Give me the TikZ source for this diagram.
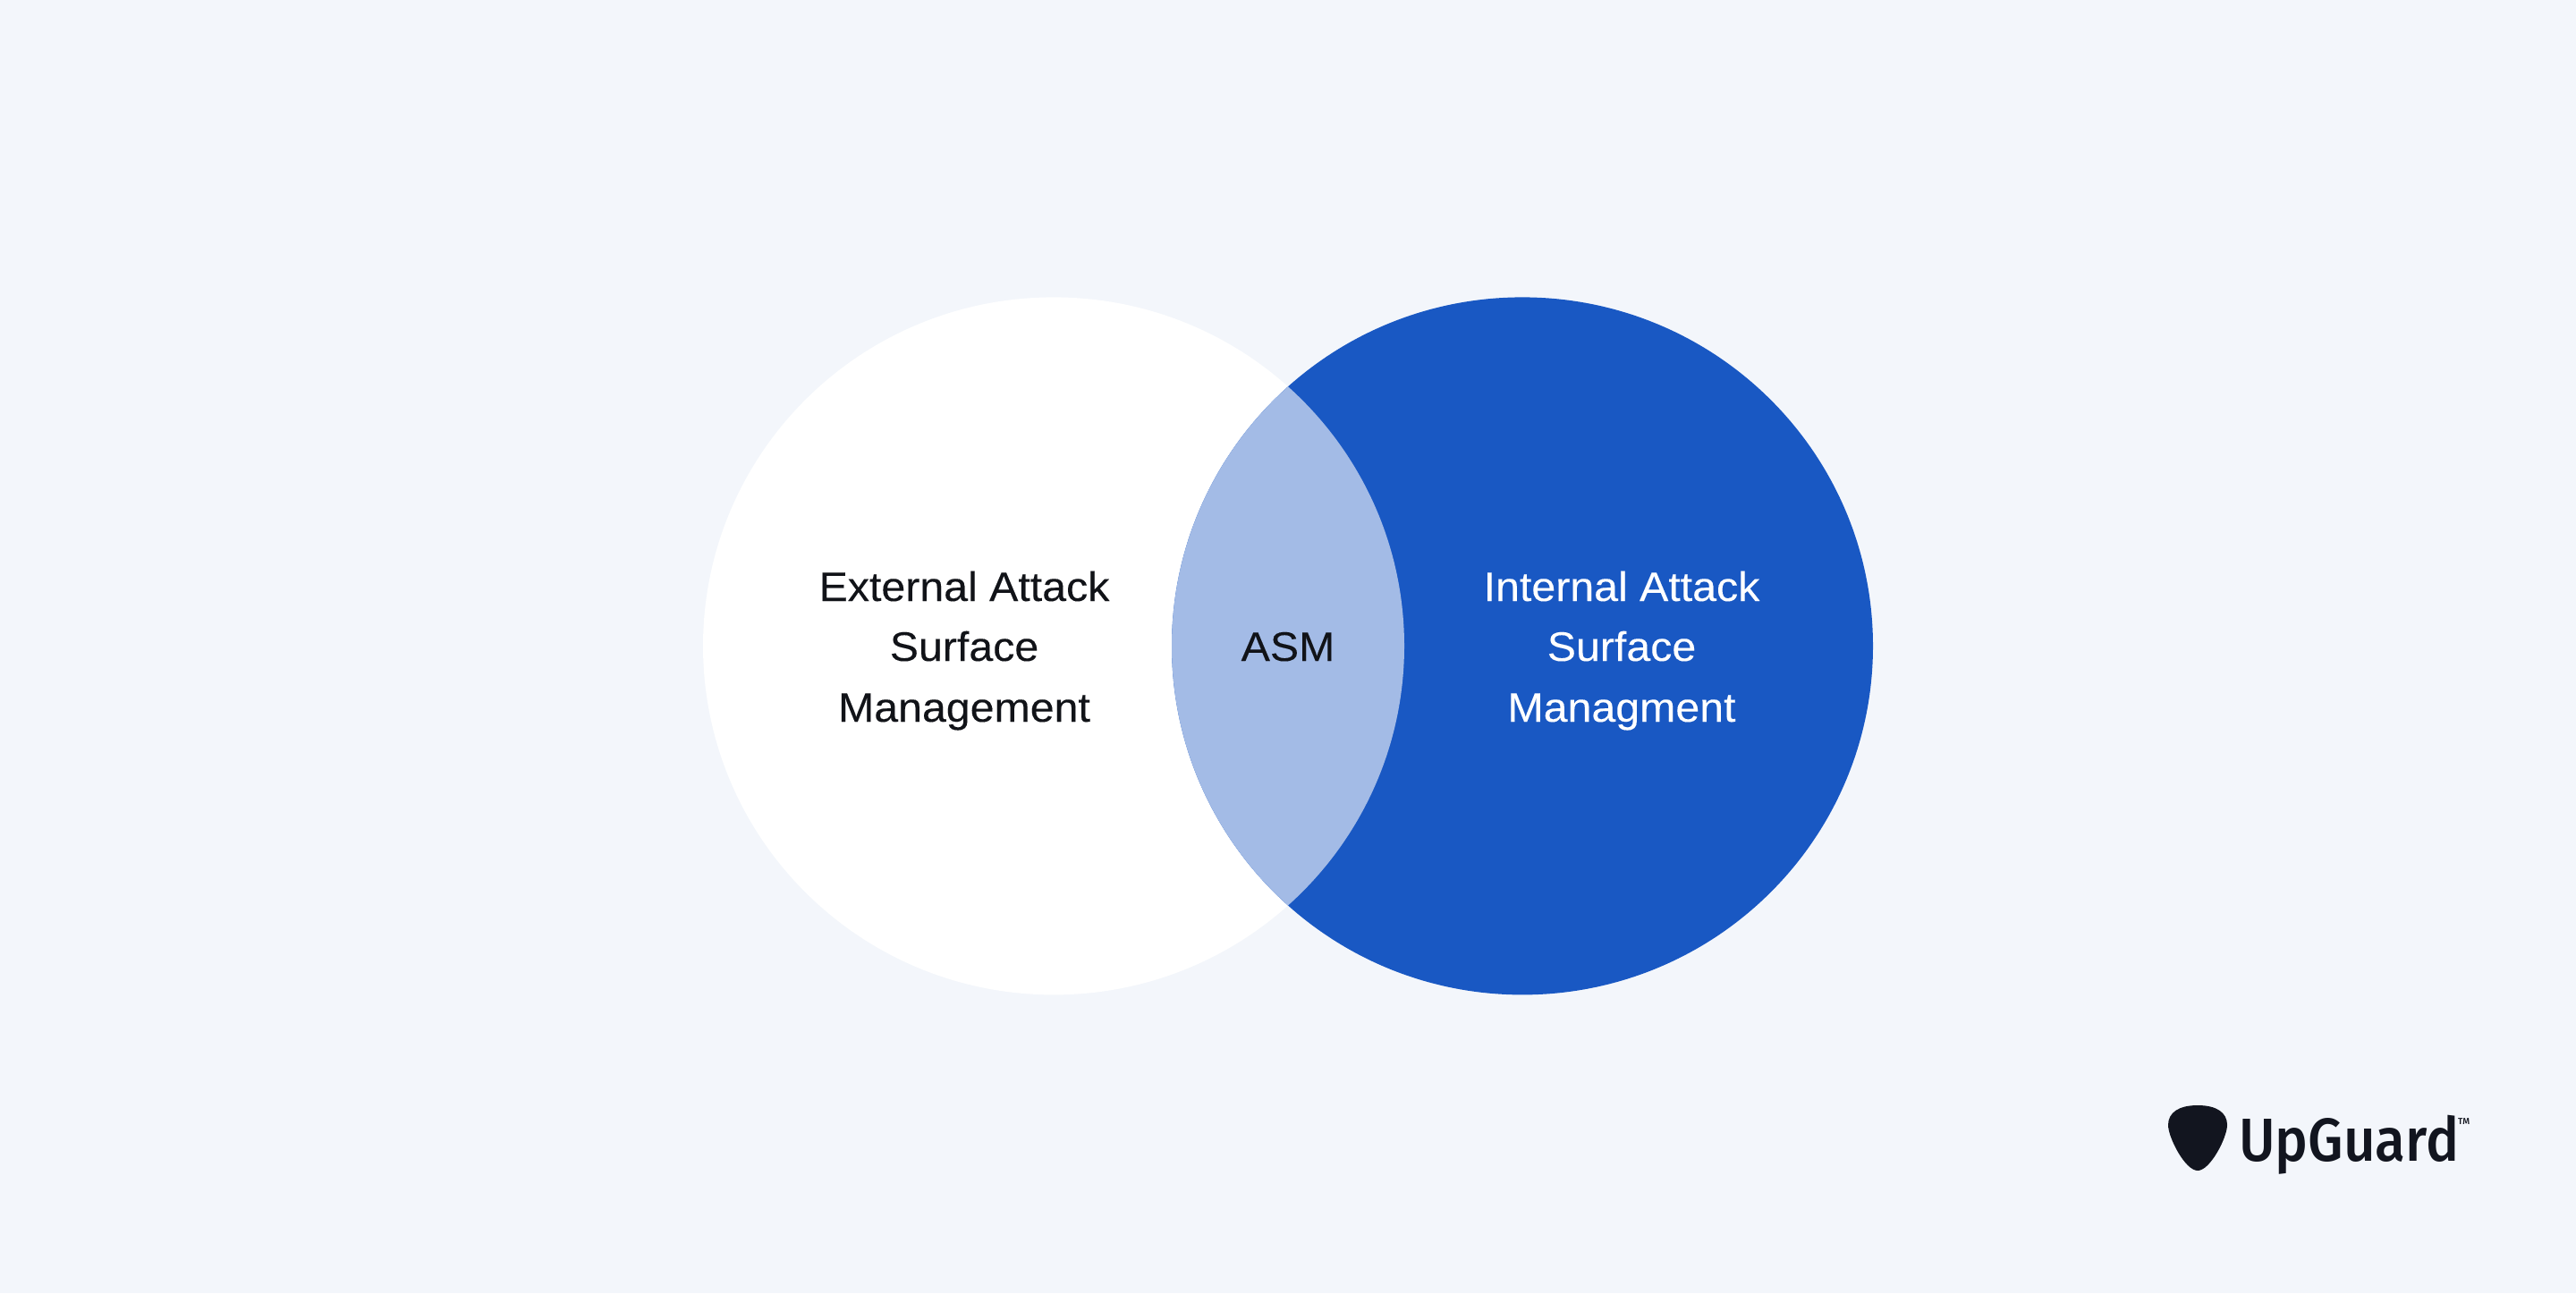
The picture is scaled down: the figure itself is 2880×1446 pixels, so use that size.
\documentclass[tikz,border=0pt]{standalone}
\usepackage{fontspec}
\setmainfont[FakeStretch=1.05,FakeBold=0.15]{Liberation Sans}
\newfontfamily\logofont[FakeStretch=0.91]{Fira Sans Medium}
\newfontfamily\tmfont{Fira Sans Medium}
\definecolor{bgc}{HTML}{F3F6FB}
\definecolor{bluec}{HTML}{1958C3}
\definecolor{lensc}{HTML}{A3BBE6}
\definecolor{inkc}{HTML}{111318}
\definecolor{logoc}{HTML}{12151F}
\tikzset{
  lbl/.style={inner sep=0pt,anchor=base,font=\fontsize{46}{46}\selectfont},
  dark/.style={lbl,text=inkc},
  light/.style={lbl,text=white}
}
\begin{document}
\begin{tikzpicture}[x=1pt,y=-1pt]
\useasboundingbox (0,0) rectangle (2880,1446);
\fill[bgc] (0,0) rectangle (2880,1446);
\fill[white] (1178,722.4) ellipse[x radius=392,y radius=390];
\fill[bluec] (1702,722.4) ellipse[x radius=392,y radius=390];
\begin{scope}
\clip (1178,722.4) ellipse[x radius=392,y radius=390];
\fill[lensc] (1702,722.4) ellipse[x radius=392,y radius=390];
\end{scope}
\node[dark] (ext1) at (1078,672) {External Attack};
\node[dark] (ext2) at (1078,739) {Surface};
\node[dark] (ext3) at (1078,807) {Management};
\node[dark] (asm) at (1440,739) {ASM};
\node[light] (int1) at (1813,672) {Internal Attack};
\node[light] (int2) at (1813,739) {Surface};
\node[light] (int3) at (1813,807) {Managment};
\fill[logoc] (2457,1236) .. controls (2436,1236) and (2424,1244) .. (2424,1258)
  .. controls (2424,1272) and (2443,1309) .. (2457,1309)
  .. controls (2471,1309) and (2490,1272) .. (2490,1258)
  .. controls (2490,1244) and (2478,1236) .. (2457,1236) -- cycle;
\node[inner sep=0pt,anchor=base west,text=logoc,font=\logofont\fontsize{68}{68}\selectfont] (logo) at (2503,1298) {UpGuard};
\node[inner sep=0pt,anchor=base west,text=logoc,font=\tmfont\fontsize{10}{10}\selectfont] (tm) at (2748,1257) {TM};
\end{tikzpicture}
\end{document}
